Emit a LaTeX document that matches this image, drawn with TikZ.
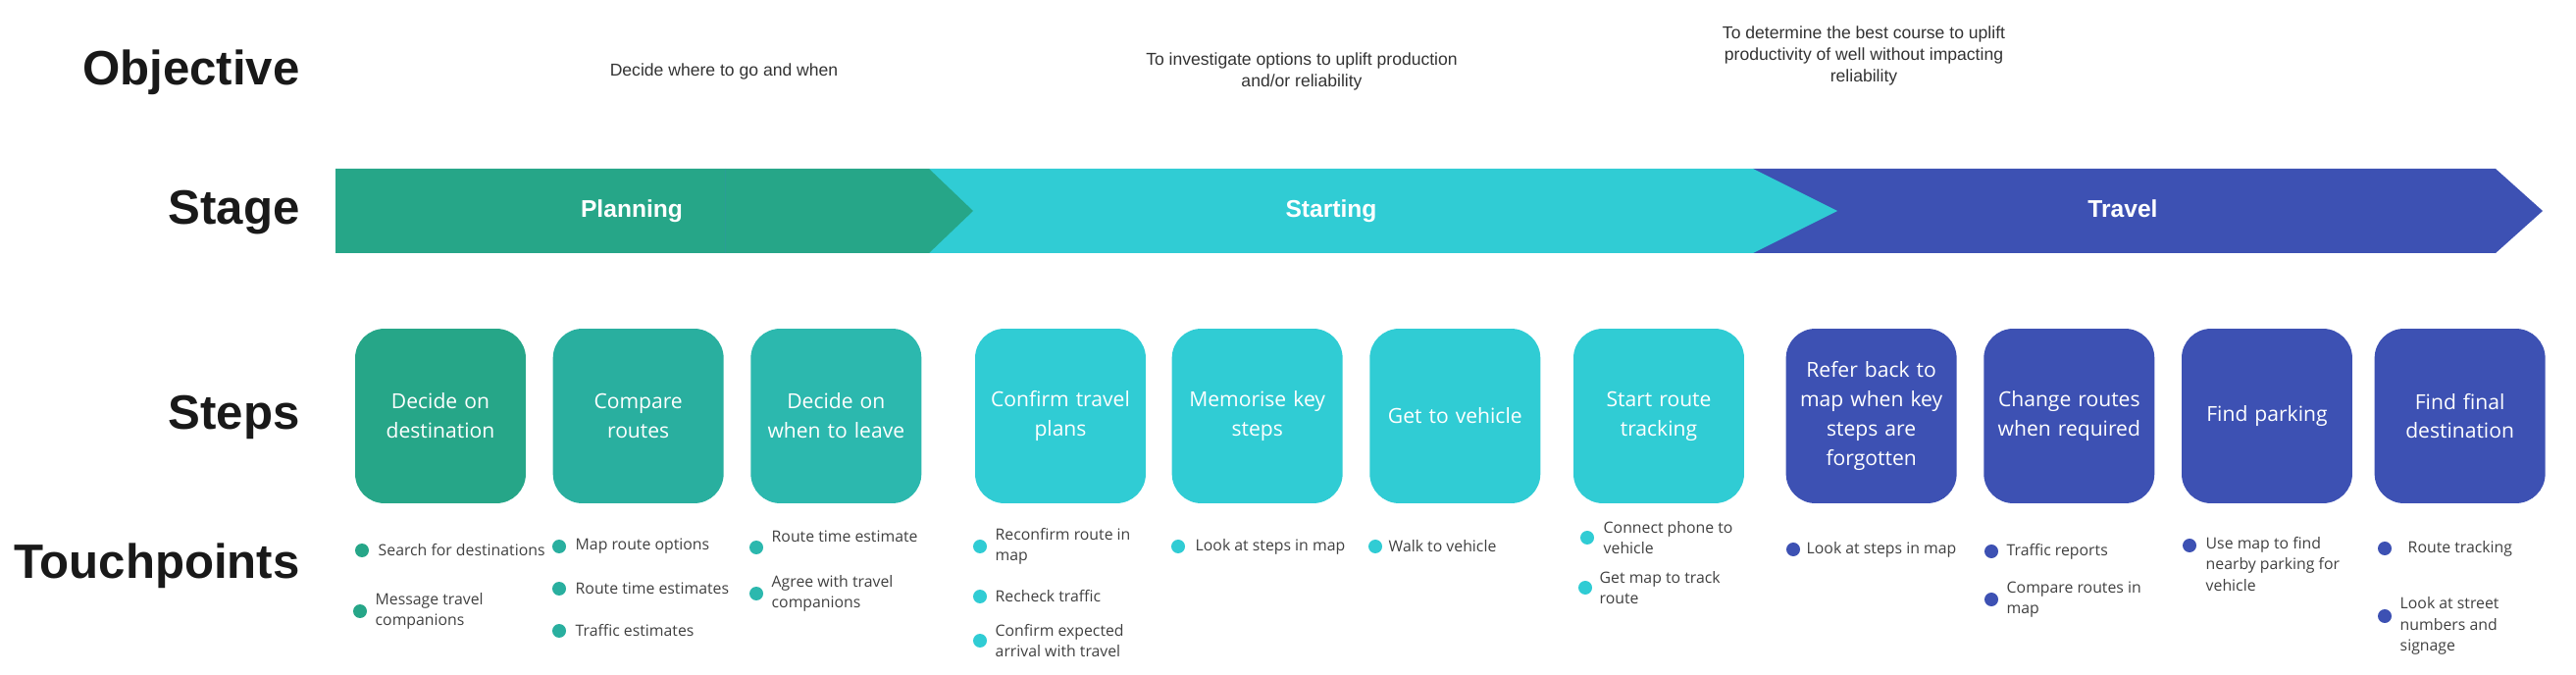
\documentclass[tikz,border=0pt]{standalone}
\usepackage{fontspec}
\setmainfont{Open Sans}
\newfontfamily\labfont{Liberation Sans}
\usetikzlibrary{positioning}

\definecolor{plan}{HTML}{26A688}
\definecolor{plantwo}{HTML}{29AF9F}
\definecolor{planthree}{HTML}{2CB8AE}
\definecolor{start}{HTML}{30CCD4}
\definecolor{trav}{HTML}{3D51B3}
\definecolor{seam}{HTML}{2A9E95}
\definecolor{tpgrey}{HTML}{404040}

\begin{document}
\begin{tikzpicture}[
        x=0.02cm, y=-0.02cm,
        node distance=0.54cm,
        rowlab/.style={anchor=base east, inner sep=0pt, text=black!90,
            font=\labfont\bfseries\fontsize{28}{32}\selectfont},
        obj/.style={align=center, inner sep=0pt, text=black!80,
            font=\labfont\fontsize{10}{12.5}\selectfont},
        stagelab/.style={anchor=base, inner sep=0pt, text=white,
            font=\labfont\bfseries\fontsize{14}{16}\selectfont},
        stepbox/.style={rounded corners=0.6cm, align=center, text=white,
            minimum width=3.48cm, minimum height=3.56cm, text width=3.2cm,
            inner sep=0.1cm, font=\fontsize{12}{17}\selectfont},
        dot/.style={circle, fill=#1, inner sep=0pt, minimum size=0.28cm},
        tp/.style={align=left, inner sep=0pt, text=tpgrey,
            font=\fontsize{9}{12.2}\selectfont}
    ]
    \useasboundingbox (0,0) rectangle (2626,688);

    %% ---- row labels ----
    \node[rowlab] (lobj)   at (306,87)  {Objective};
    \node[rowlab] (lstage) at (306,229) {Stage};
    \node[rowlab] (lsteps) at (306,438) {Steps};
    \node[rowlab] (ltouch) at (306,590) {Touchpoints};

    %% ---- objectives ----
    \node[obj] (o1) at (738,73)  {Decide where to go and when};
    \node[obj] (o2) at (1327,73) {To investigate options to uplift production\\ and/or reliability};
    \node[obj] (o3) at (1900,57) {To determine the best course to uplift\\ productivity of well without impacting\\ reliability};

    %% ---- stage bar ----
    \fill[trav]  (1787,172) -- (2544,172) -- (2592,215) -- (2544,258) -- (1787,258) -- cycle;
    \fill[start] (947,172) -- (1787,172) -- (1873,215) -- (1787,258) -- (947,258) -- cycle;
    \fill[plan]  (342,172) -- (947,172) -- (992,215) -- (947,258) -- (342,258) -- cycle;
    \draw[seam, line width=0.4pt] (739,172) -- (739,258);

    \node[stagelab] (planning) at (644,222)  {Planning};
    \node[stagelab] (starting) at (1357,222) {Starting};
    \node[stagelab] (travel)   at (2164,222) {Travel};

    %% ---- steps ----
    \node[stepbox, fill=plan] (s1) at (449,424) {Decide on\\ destination};
    \node[stepbox, fill=plantwo, right=of s1] (s2) {Compare\\ routes};
    \node[stepbox, fill=planthree, right=of s2] (s3) {Decide on\\ when to leave};
    \node[stepbox, fill=start, right=1.08cm of s3] (s4) {Confirm travel\\ plans};
    \node[stepbox, fill=start, right=0.52cm of s4] (s5) {Memorise key\\ steps};
    \node[stepbox, fill=start, right=0.54cm of s5] (s6) {Get to vehicle};
    \node[stepbox, fill=start, right=0.66cm of s6] (s7) {Start route\\ tracking};
    \node[stepbox, fill=trav, right=0.84cm of s7]  (s8) {Refer back to\\ map when key\\ steps are\\ forgotten};
    \node[stepbox, fill=trav, right=0.54cm of s8]  (s9) {Change routes\\ when required};
    \node[stepbox, fill=trav, right=0.54cm of s9]  (s10) {Find parking};
    \node[stepbox, fill=trav, right=0.44cm of s10] (s11) {Find final\\ destination};

    %% ---- touchpoints ----
    \node[dot=plan] (d1a) at (369,561) {};
    \node[tp, right=0.18cm of d1a] (t1a) {Search for destinations};
    \node[dot=plan] (d1b) at (367,623) {};
    \node[tp, right=0.16cm of d1b] (t1b) {Message travel\\ companions};

    \node[dot=plantwo] (d2a) at (570,557) {};
    \node[tp, right=0.18cm of d2a] (t2a) {Map route options};
    \node[dot=plantwo] (d2b) at (570,600) {};
    \node[tp, right=0.18cm of d2b] (t2b) {Route time estimates};
    \node[dot=plantwo] (d2c) at (570,643) {};
    \node[tp, right=0.18cm of d2c] (t2c) {Traffic estimates};

    \node[dot=planthree] (d3a) at (771,558) {};
    \node[tp, right=0.16cm of d3a, yshift=0.22cm] (t3a) {Route time estimate};
    \node[dot=planthree] (d3b) at (771,605) {};
    \node[tp, right=0.16cm of d3b] (t3b) {Agree with travel\\ companions};

    \node[dot=start] (d4a) at (999,557) {};
    \node[tp, right=0.16cm of d4a] (t4a) {Reconfirm route in\\ map};
    \node[dot=start] (d4b) at (999,608) {};
    \node[tp, right=0.16cm of d4b] (t4b) {Recheck traffic};
    \node[dot=start] (d4c) at (999,653) {};
    \node[tp, right=0.16cm of d4c] (t4c) {Confirm expected\\ arrival with travel};

    \node[dot=start] (d5a) at (1201,557) {};
    \node[tp, right=0.2cm of d5a] (t5a) {Look at steps in map};

    \node[dot=start] (d6a) at (1402,557) {};
    \node[tp, right=0.12cm of d6a] (t6a) {Walk to vehicle};

    \node[dot=start] (d7a) at (1618,548) {};
    \node[tp, right=0.18cm of d7a] (t7a) {Connect phone to\\ vehicle};
    \node[dot=start] (d7b) at (1616,599) {};
    \node[tp, right=0.14cm of d7b] (t7b) {Get map to track\\ route};

    \node[dot=trav] (d8a) at (1828,560) {};
    \node[tp, right=0.12cm of d8a] (t8a) {Look at steps in map};

    \node[dot=trav] (d9a) at (2030,562) {};
    \node[tp, right=0.16cm of d9a] (t9a) {Traffic reports};
    \node[dot=trav] (d9b) at (2030,611) {};
    \node[tp, right=0.16cm of d9b] (t9b) {Compare routes in\\ map};

    \node[dot=trav] (d10a) at (2232,556) {};
    \node[tp, right=0.18cm of d10a, yshift=-0.38cm] (t10a) {Use map to find\\ nearby parking for\\ vehicle};

    \node[dot=trav] (d11a) at (2431,559) {};
    \node[tp, right=0.32cm of d11a] (t11a) {Route tracking};
    \node[dot=trav] (d11b) at (2431,628) {};
    \node[tp, right=0.16cm of d11b, yshift=-0.2cm] (t11b) {Look at street\\ numbers and\\ signage};
\end{tikzpicture}
\end{document}
